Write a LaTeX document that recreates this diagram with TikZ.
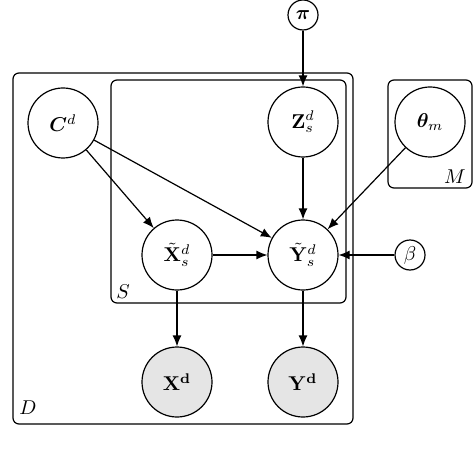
\documentclass[tikz,border=0pt]{standalone}
\usepackage{amsmath,bm}
\usetikzlibrary{arrows.meta}
\begin{document}
\begin{tikzpicture}[x=0.5pt,y=-0.5pt,line width=0.6pt]
\tikzstyle{every node}+=[inner sep=0pt]
\tikzstyle{var}=[draw,circle,minimum size=35pt]
\tikzstyle{obs}=[var,fill=black!10]
\tikzstyle{hyper}=[draw,circle,minimum size=15pt]
\tikzstyle{plate}=[draw,rounded corners=3pt]
\tikzstyle{edge}=[-{Latex[length=5.5pt,width=4.5pt]}]
\useasboundingbox (0,0) rectangle (474,448);
\draw [plate] (13,73) rectangle (353,424);
\draw [plate] (111,80) rectangle (346,303);
\draw [plate] (388,80) rectangle (472,188);
\draw (123,292) node {$S$};
\draw (28,408) node {$D$};
\draw (455,177) node {$M$};
\node [hyper] (pi) at (303,15) {$\bm{\pi}$};
\node [var] (c) at (63,123) {$\bm{C}^d$};
\node [var] (z) at (303,122) {$\mathbf{Z}_s^d$};
\node [var] (theta) at (430,122) {$\bm{\theta}_m$};
\node [var] (xt) at (177,255) {$\tilde{\mathbf{X}}_s^d$};
\node [var] (yt) at (303,255) {$\tilde{\mathbf{Y}}_s^d$};
\node [hyper] (beta) at (410,255) {$\beta$};
\node [obs] (x) at (177,382) {$\mathbf{X^d}$};
\node [obs] (y) at (303,382) {$\mathbf{Y^d}$};
\draw [edge] (pi) -- (z);
\draw [edge] (c) -- (xt);
\draw [edge] (c) -- (yt);
\draw [edge] (z) -- (yt);
\draw [edge] (theta) -- (yt);
\draw [edge] (xt) -- (yt);
\draw [edge] (beta) -- (yt);
\draw [edge] (xt) -- (x);
\draw [edge] (yt) -- (y);
\end{tikzpicture}
\end{document}
